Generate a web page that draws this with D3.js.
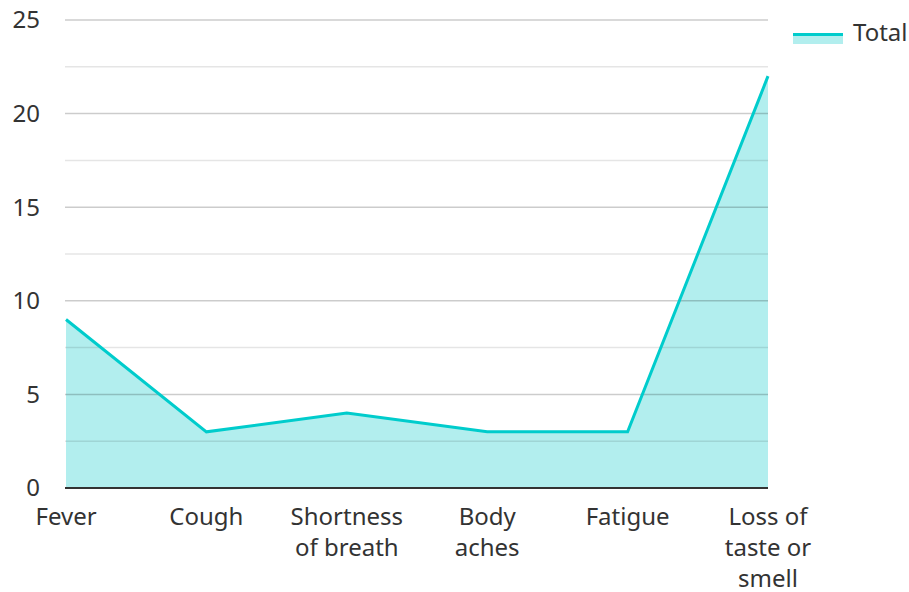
<!DOCTYPE html>
<html>
<head>
<meta charset="utf-8">
<script src="https://cdn.jsdelivr.net/npm/d3@7"></script>
<style>
  body { margin: 0; background: #fff; }
  text { font-family: "Noto Sans", "Open Sans", sans-serif; fill: #333; }
</style>
</head>
<body>
<div id="chart"></div>
<script>
const categories = ["Fever", "Cough", "Shortness of breath", "Body aches", "Fatigue", "Loss of taste or smell"];
const totals = [9, 3, 4, 3, 3, 22];
const yTicks = [0, 5, 10, 15, 20, 25];
const yMinor = [2.5, 7.5, 12.5, 17.5, 22.5];
const seriesName = "Total";

const width = 909, height = 592;
const margin = { top: 20, right: 141, bottom: 104, left: 66 };

const svg = d3.select("#chart").append("svg")
  .attr("width", width)
  .attr("height", height);

const x = d3.scalePoint()
  .domain(categories)
  .range([margin.left, width - margin.right]);

const y = d3.scaleLinear()
  .domain([0, 25])
  .range([height - margin.bottom, margin.top]);

const lineColor = "#00cccc";
const fillColor = "#b2eeee";

const data = categories.map((c, i) => ({ cat: c, value: totals[i] }));

// area
const area = d3.area()
  .x(d => x(d.cat))
  .y0(y(0))
  .y1(d => y(d.value));

svg.append("path")
  .datum(data)
  .attr("fill", fillColor)
  .attr("d", area);

// gridlines (over the fill, semi-transparent)
svg.append("g")
  .selectAll("line.minor")
  .data(yMinor)
  .join("line")
  .attr("x1", margin.left - 1)
  .attr("x2", width - margin.right)
  .attr("y1", d => y(d))
  .attr("y2", d => y(d))
  .attr("stroke", "rgba(0,0,0,0.1)")
  .attr("stroke-width", 1.5);

svg.append("g")
  .selectAll("line.major")
  .data(yTicks.filter(d => d > 0))
  .join("line")
  .attr("x1", margin.left - 1)
  .attr("x2", width - margin.right)
  .attr("y1", d => y(d))
  .attr("y2", d => y(d))
  .attr("stroke", "rgba(0,0,0,0.2)")
  .attr("stroke-width", 1.5);

// line
const line = d3.line()
  .x(d => x(d.cat))
  .y(d => y(d.value));

svg.append("path")
  .datum(data)
  .attr("fill", "none")
  .attr("stroke", lineColor)
  .attr("stroke-width", 3)
  .attr("d", line);

// baseline
svg.append("line")
  .attr("x1", margin.left - 1)
  .attr("x2", width - margin.right)
  .attr("y1", y(0))
  .attr("y2", y(0))
  .attr("stroke", "#333")
  .attr("stroke-width", 2);

// y labels
svg.append("g")
  .selectAll("text")
  .data(yTicks)
  .join("text")
  .attr("x", 40)
  .attr("y", d => y(d))
  .attr("dy", "0.35em")
  .attr("text-anchor", "end")
  .attr("font-size", "24px")
  .text(d => d);

// x labels, wrapped
const wrap = {
  "Fever": ["Fever"],
  "Cough": ["Cough"],
  "Shortness of breath": ["Shortness", "of breath"],
  "Body aches": ["Body", "aches"],
  "Fatigue": ["Fatigue"],
  "Loss of taste or smell": ["Loss of", "taste or", "smell"]
};

svg.append("g")
  .selectAll("text")
  .data(categories)
  .join("text")
  .attr("x", d => x(d))
  .attr("y", y(0) + 37)
  .attr("text-anchor", "middle")
  .attr("font-size", "24px")
  .each(function(d) {
    d3.select(this).selectAll("tspan")
      .data(wrap[d])
      .join("tspan")
      .attr("x", x(d))
      .attr("dy", (t, i) => i === 0 ? 0 : 31)
      .text(t => t);
  });

// legend
const lg = svg.append("g").attr("transform", "translate(793, 33)");
lg.append("rect")
  .attr("x", 0).attr("y", 0)
  .attr("width", 50).attr("height", 11)
  .attr("fill", fillColor);
lg.append("line")
  .attr("x1", 0).attr("x2", 50)
  .attr("y1", 1.5).attr("y2", 1.5)
  .attr("stroke", lineColor)
  .attr("stroke-width", 3);
lg.append("text")
  .attr("x", 60)
  .attr("y", 0)
  .attr("dy", "0.35em")
  .attr("font-size", "24px")
  .text(seriesName);
</script>
</body>
</html>
